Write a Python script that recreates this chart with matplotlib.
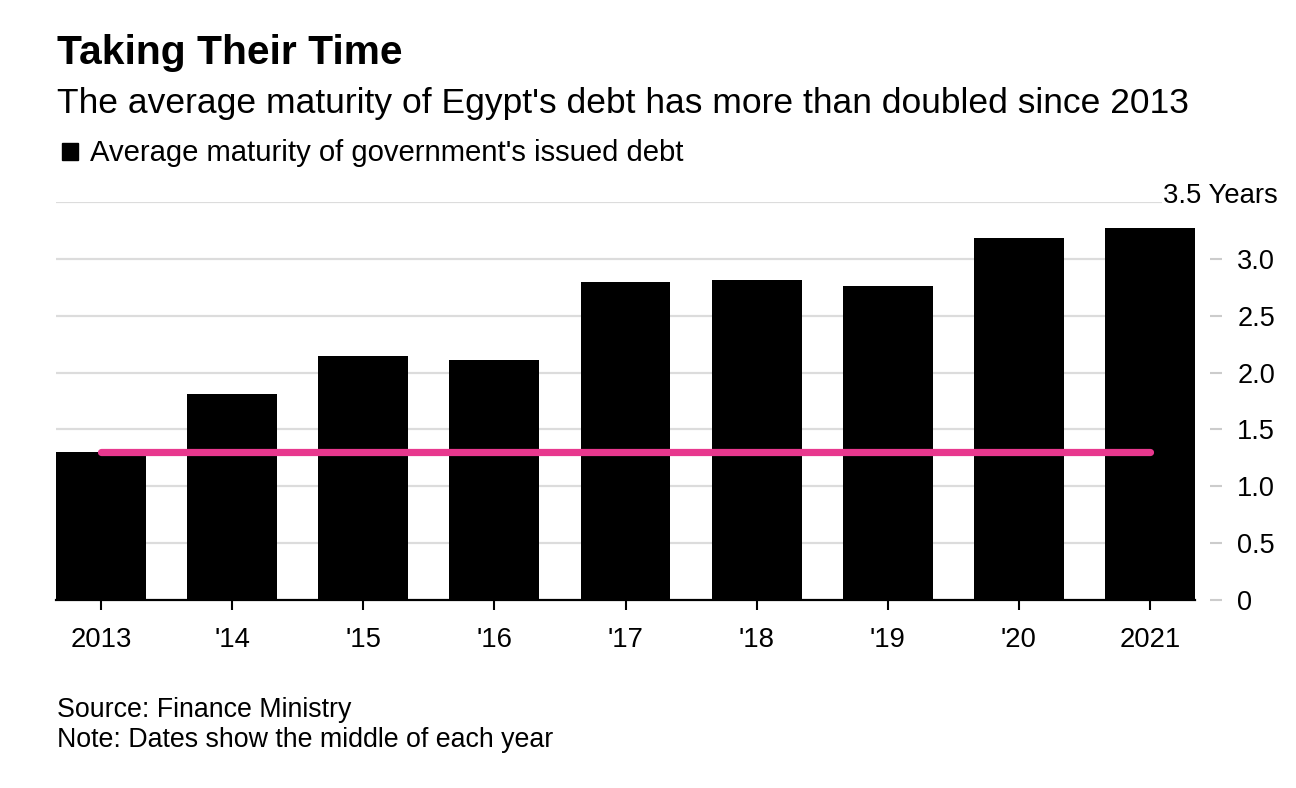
import numpy as np
import matplotlib.pyplot as plt

plt.rcParams['font.family'] = ['Liberation Sans', 'DejaVu Sans']

# data
years = ['2013', "'14", "'15", "'16", "'17", "'18", "'19", "'20", '2021']
maturity = [1.30, 1.81, 2.15, 2.11, 2.80, 2.81, 2.76, 3.18, 3.27]
baseline_2013 = 1.30
y_ticks = [0, 0.5, 1.0, 1.5, 2.0, 2.5, 3.0]
y_tick_labels = ['0', '0.5', '1.0', '1.5', '2.0', '2.5', '3.0']

W, H = 1296, 788
fig = plt.figure(figsize=(W / 100, H / 100), dpi=100)
ax = fig.add_axes([56 / W, 1 - 600 / H, (1195 - 56) / W, (600 - 202) / H])

# right spine pushed out so the y ticks sit apart from the bars
ax.spines['right'].set_position(('outward', 11))
for s in ['top', 'left', 'right']:
    ax.spines[s].set_visible(False)
ax.spines['bottom'].set_linewidth(1.6)
ax.spines['bottom'].set_zorder(4)

x = np.arange(len(years))
ax.bar(x, maturity, width=0.686, color='black', zorder=2)
ax.plot([x[0], x[-1]], [baseline_2013, baseline_2013], color='#e8388e',
        lw=5.2, solid_capstyle='round', zorder=3)

ax.set_xlim(-0.343, len(years) - 1 + 0.343)
ax.set_ylim(0, 3.5)

# gridlines
for v in y_ticks[1:] + [3.5]:
    ax.axhline(v, color='#dcdcdc', lw=1.6, zorder=1)

ax.set_xticks(x)
ax.set_xticklabels(years)
ax.tick_params(axis='x', length=7, width=1.5, color='black', pad=12.5, labelsize=19.8)

ax.yaxis.tick_right()
ax.set_yticks(y_ticks)
ax.set_yticklabels(y_tick_labels, ha='left')
ax.tick_params(axis='y', length=8.5, width=1.5, color='#cccccc', pad=11, labelsize=19.5)

fig.text(1278 / W, 1 - 196 / H, '3.5 Years', fontsize=19.8, ha='right', va='center',
         bbox=dict(facecolor='white', edgecolor='none', pad=1))

# titles and notes
fig.text(57 / W, 1 - 64 / H, 'Taking Their Time', fontsize=29.3, fontweight='bold',
         ha='left', va='baseline')
fig.text(57 / W, 1 - 113 / H,
         "The average maturity of Egypt's debt has more than doubled since 2013",
         fontsize=25.5, ha='left', va='baseline')
fig.patches.append(plt.Rectangle((62 / W, 1 - 160 / H), 16 / W, 17 / H,
                                 transform=fig.transFigure, color='black'))
fig.text(90 / W, 1 - 161 / H, "Average maturity of government's issued debt",
         fontsize=21.1, ha='left', va='baseline')
fig.text(57 / W, 1 - 717 / H, 'Source: Finance Ministry', fontsize=19.3,
         ha='left', va='baseline')
fig.text(57 / W, 1 - 747 / H, 'Note: Dates show the middle of each year', fontsize=19.3,
         ha='left', va='baseline')

fig.savefig('out.png', dpi=100, facecolor='white')
